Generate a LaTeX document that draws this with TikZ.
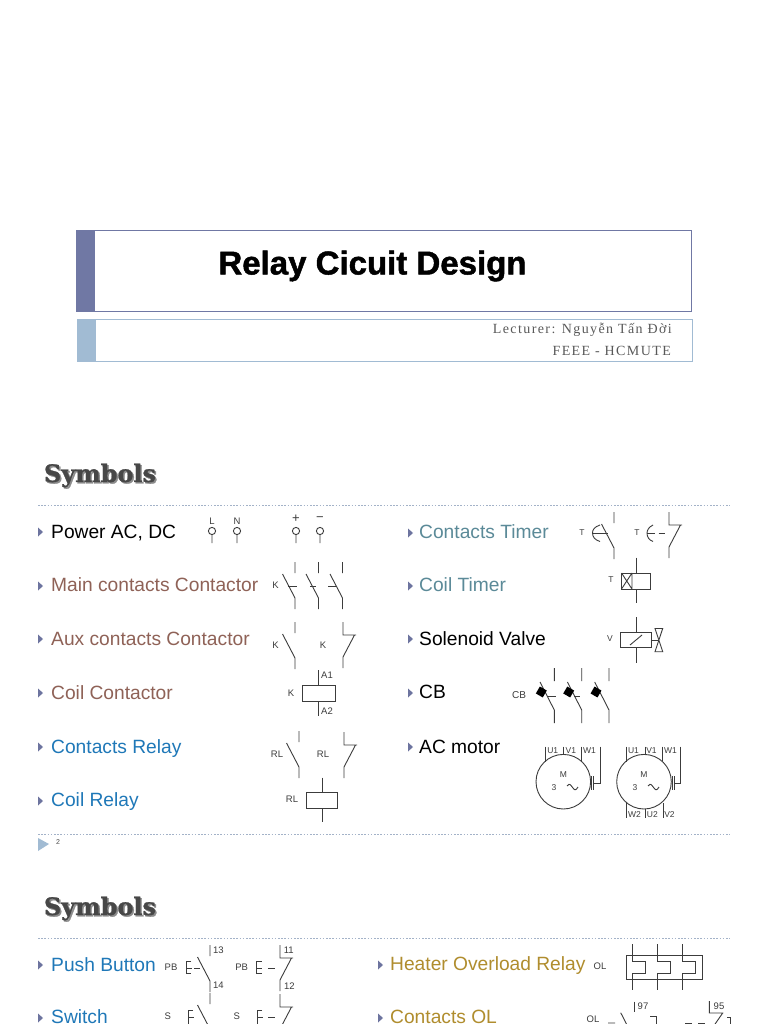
\documentclass[tikz,border=0pt]{standalone}
\usepackage{fontspec}
\setmainfont{Liberation Sans}
\newfontfamily\titlef[BoldFeatures={FakeBold=1.4}]{Liberation Sans}
\newfontfamily\headf[BoldFeatures={FakeBold=1.0}]{DejaVu Serif}
\newfontfamily\lectf[LetterSpace=10]{Liberation Serif}
\definecolor{cbrown}{HTML}{8F6257}
\definecolor{cteal}{HTML}{5B8A98}
\definecolor{cblue}{HTML}{1F78B8}
\definecolor{cgold}{HTML}{B08D2E}
\definecolor{cbul}{HTML}{6D749F}
\definecolor{cline}{HTML}{3C3C3C}
\definecolor{crule}{HTML}{A3B2C8}
\definecolor{cbar}{HTML}{7078A4}
\definecolor{cbarb}{HTML}{A1BBD3}
\tikzset{
  sym/.style={draw=cline,line width=0.9pt},
  lbl/.style={font=\fontsize{9.5}{10}\selectfont,text=cline,inner sep=0pt},
  lbs/.style={font=\fontsize{8.5}{9}\selectfont,text=cline,inner sep=0pt},
  item/.style={anchor=base west,inner sep=0pt,font=\fontsize{19.2}{22}\selectfont},
  bulletmark/.style={fill=cbul,draw=none},
  rulel/.style={draw=crule,line width=0.7pt,dash pattern=on 1.6pt off 1.6pt},
  headtext/.style={inner sep=0pt,font=\headf\bfseries\fontsize{24}{26}\selectfont},
}
\newcommand{\bul}[2]{\path[bulletmark] (#1,#2-4.5) -- (#1+5,#2) -- (#1,#2+4.5) -- cycle;}
\newcommand{\noC}[2]{\begin{scope}[shift={(#1,#2)}]
  \draw[sym] (0,0) -- (0,11) (-12.5,12) -- (0,36) -- (0,47);\end{scope}}
\newcommand{\ncC}[2]{\begin{scope}[shift={(#1,#2)}]
  \draw[sym] (0,0) -- (0,13) -- (13,13) (11.5,13) -- (0,35) -- (0,46);\end{scope}}
\newcommand{\terminal}[2]{\draw[sym] (#1,#2) circle (3.6) (#1,#2+3.6) -- (#1,#2+12);}
\begin{document}
\begin{tikzpicture}[x=1pt,y=-1pt]
\clip (0,0) rectangle (768,1024);
\fill[white] (0,0) rectangle (768,1024);
% title
\draw[draw=cbar,line width=0.7pt] (76,230) rectangle (691,311);
\fill[cbar] (76,230) rectangle (95,311);
\node[inner sep=0pt] (title) at (372.5,266) {\titlef\bfseries\fontsize{33}{35}\selectfont Relay Cicuit Design};
\draw[draw=cbarb,line width=0.7pt] (77,319) rectangle (692,361);
\fill[cbarb] (77,319) rectangle (96,361);
\node[anchor=east,inner sep=0pt,text=black!65] (lect) at (672,329.5) {\lectf\fontsize{14}{16}\selectfont Lecturer: Nguyễn Tấn Đời};
\node[anchor=east,inner sep=0pt,text=black!65] (feee) at (671,350.5) {\lectf\fontsize{14}{16}\selectfont FEEE - HCMUTE};
% headings
\node[headtext,text=black!45] (h1s) at (101.5,477) {Symbols};
\node[headtext,text=black!72] (h1) at (100,475.5) {Symbols};
\node[headtext,text=black!45] (h2s) at (101.5,910) {Symbols};
\node[headtext,text=black!72] (h2) at (100,908.5) {Symbols};
% rules
\draw[rulel] (38,505) -- (730,505);
\draw[rulel] (38,834) -- (730,834);
\draw[rulel] (38,938) -- (730,938);
\path[fill=cbarb] (38,838) -- (49,844) -- (38,851) -- cycle;
\node[inner sep=0pt,font=\fontsize{7}{8}\selectfont,text=black!70] (pg) at (58,842) {2};
% left items
\bul{38}{532}\node[item] (i1) at (51,538) {Power AC, DC};
\bul{38}{586}\node[item,text=cbrown] (i2) at (51,591.7) {Main contacts Contactor};
\bul{38}{639}\node[item,text=cbrown] (i3) at (51,645) {Aux contacts Contactor};
\bul{38}{693}\node[item,text=cbrown] (i4) at (51,699) {Coil Contactor};
\bul{38}{747}\node[item,text=cblue] (i5) at (51,753.3) {Contacts Relay};
\bul{38}{801}\node[item,text=cblue] (i6) at (51,806.7) {Coil Relay};
% right items
\bul{408}{533}\node[item,text=cteal] (j1) at (419,538) {Contacts Timer};
\bul{408}{586}\node[item,text=cteal] (j2) at (419,591.7) {Coil Timer};
\bul{408}{639}\node[item] (j3) at (419,645) {Solenoid Valve};
\bul{408}{693}\node[item] (j4) at (419,698.5) {CB};
\bul{408}{747}\node[item] (j5) at (419,753.3) {AC motor};
% bottom items
\bul{38}{965}\node[item,text=cblue] (k1) at (51,971.5) {Push Button};
\bul{38}{1018}\node[item,text=cblue] (k2) at (51,1023.3) {Switch};
\bul{378}{965}\node[item,text=cgold] (k3) at (390,970.7) {Heater Overload Relay};
\bul{378}{1018}\node[item,text=cgold] (k4) at (390,1023.3) {Contacts OL};
% power
\node[lbl] (pL) at (212,521) {L};
\node[lbl] (pN) at (237,521) {N};
\node[lbl,font=\fontsize{13}{14}\selectfont] (pP) at (296,519) {+};
\node[lbl,font=\fontsize{13}{14}\selectfont] (pM) at (320,519) {−};
\terminal{212}{531}\terminal{237}{531}\terminal{296}{531}\terminal{320}{531}
% main contacts
\node[lbl] (mk) at (275.5,585) {K};
\noC{295}{562}\noC{318.5}{562}\noC{342.5}{562}
\draw[sym] (288,586) -- (297,586) (310,586) -- (316,586) (328,586) -- (337,586);
% aux
\node[lbl] (ak1) at (275.5,645) {K};
\node[lbl] (ak2) at (323,645) {K};
\noC{295}{622}
\ncC{343}{622}
% coil contactor
\node[lbl] (ck) at (291,693) {K};
\node[lbl] (a1) at (327,675) {A1};
\node[lbl] (a2) at (327,711) {A2};
\draw[sym] (318,670) -- (318,685) (318,701) -- (318,716);
\draw[sym] (302.5,685) rectangle (335,701);
% contacts relay
\node[lbl] (rl1) at (277,754) {RL};
\node[lbl] (rl2) at (323,754) {RL};
\noC{299}{731}
\ncC{344}{732}
% coil relay
\node[lbl] (rl3) at (292,799.5) {RL};
\draw[sym] (322,777.5) -- (322,792.5) (322,808) -- (322,822);
\draw[sym] (306,792.5) rectangle (337,808);
% contacts timer
\node[lbs] (t1) at (582,533) {T};
\node[lbs] (t2) at (637,533) {T};
\noC{614}{512}
\draw[sym] (600,525) .. controls (594,527) and (592.5,530) .. (592.5,533) .. controls (592.5,537) and (595,540) .. (600,541.5);
\draw[sym] (592.5,533) -- (608,533);
\ncC{669}{512}
\draw[sym] (653,525) .. controls (649,527) and (647,530) .. (647,533) .. controls (647,537) and (649,540) .. (653,541.5);
\draw[sym] (647,533) -- (655,533) (658.5,533) -- (665,533);
% coil timer
\node[lbs] (t3) at (611,580) {T};
\draw[sym] (636,557.5) -- (636,573) (636,589) -- (636,603);
\draw[sym] (621.5,573) rectangle (650.5,589);
\draw[sym] (632,573) -- (632,589) (621.5,573) -- (632,589) (632,573) -- (621.5,589);
% solenoid
\node[lbs] (v) at (610,639) {V};
\draw[sym] (636,617) -- (636,632.5) (636,648) -- (636,662.5);
\draw[sym] (620.5,632.5) rectangle (651.7,647.7);
\draw[sym] (630,645) -- (642,635);
\draw[sym] (651.7,640) -- (659,640);
\draw[sym] (655,628.5) -- (662.7,628.5) -- (655,651.7) -- (662.7,651.7) -- cycle;
% CB
\node[lbl,font=\fontsize{10}{11}\selectfont] (cb) at (519,695) {CB};
\foreach \xx in {554.3,581.7,609}{
  \draw[sym] (\xx,668) -- (\xx,681) (\xx-14.3,682) -- (\xx,710) -- (\xx,723);
  \fill[black,rotate around={-30:(\xx-13,692)}] (\xx-17,688) rectangle (\xx-9,696);
}
\draw[sym] (547,696) -- (556,696) (574,696) -- (580,696);
% motors
\begin{scope}
\draw[sym] (563.3,781.7) circle (27.3);
\draw[sym] (545.7,746.7) -- (545.7,762) (563.3,746.7) -- (563.3,754.4) (581.7,746.7) -- (581.7,761);
\draw[sym] (600,746.7) -- (600,783) -- (593.5,783);
\draw[sym] (591,776) -- (591,790) (593.5,776) -- (593.5,790);
\node[lbs] (u1a) at (552.7,750.7) {U1};
\node[lbs] (v1a) at (570.8,750.7) {V1};
\node[lbs] (w1a) at (589.5,750.7) {W1};
\node[lbs] (ma) at (563.3,775) {M};
\node[lbs] (na) at (554,787.7) {3};
\draw[sym] (567,786) .. controls (570,782) and (571,786) .. (573,788) .. controls (575,791) and (576,790) .. (578,787);
\end{scope}
\begin{scope}
\draw[sym] (644,781.7) circle (27.3);
\draw[sym] (626.7,746.7) -- (626.7,762) (645,746.7) -- (645,754.4) (662.3,746.7) -- (662.3,761);
\draw[sym] (680.7,746.7) -- (680.7,783) -- (674.5,783);
\draw[sym] (672,776) -- (672,790) (674.5,776) -- (674.5,790);
\draw[sym] (626.7,803) -- (626.7,818) (645.7,809) -- (645.7,818) (663,803) -- (663,818);
\node[lbs] (u1b) at (633.5,750.7) {U1};
\node[lbs] (v1b) at (651.5,750.7) {V1};
\node[lbs] (w1b) at (670.5,750.7) {W1};
\node[lbs] (w2b) at (634.5,814.3) {W2};
\node[lbs] (u2b) at (652.3,814.3) {U2};
\node[lbs] (v2b) at (669.5,814.3) {V2};
\node[lbs] (mb) at (644,775) {M};
\node[lbs] (nb) at (635,787.7) {3};
\draw[sym] (648,786) .. controls (651,782) and (652,786) .. (654,788) .. controls (656,791) and (657,790) .. (659,787);
\end{scope}
% push buttons
\node[lbl] (pb1) at (171,967.7) {PB};
\node[lbl] (pb2) at (241.7,967.7) {PB};
\draw[sym] (191,961.7) -- (186,961.7) -- (186,973.3) -- (191,973.3) (186,968) -- (192,968) (194,968) -- (200,968);
\noC{210}{945}
\draw[sym] (261.7,961.7) -- (256.7,961.7) -- (256.7,973.3) -- (261.7,973.3) (256.7,968) -- (262,968) (268.3,968) -- (275,968);
\ncC{280}{945}
\node[lbl] (n13) at (218.3,950) {13};
\node[lbl] (n14) at (218.3,985.7) {14};
\node[lbl] (n11) at (288.7,950) {11};
\node[lbl] (n12) at (289.3,985.7) {12};
% switches
\node[lbl] (s1) at (167.7,1016) {S};
\node[lbl] (s2) at (236.7,1016) {S};
\draw[sym] (193,1010.7) -- (188.3,1010.7) -- (188.3,1024) -- (185,1024) (188.3,1017) -- (194,1017);
\noC{210}{993}
\draw[sym] (262,1010.7) -- (257.3,1010.7) -- (257.3,1024) -- (254,1024) (257.3,1017) -- (263,1017) (268.3,1017) -- (275,1017);
\ncC{280}{994}
% heater overload
\node[lbl] (ol) at (600,966.7) {OL};
\draw[sym,line width=1pt] (626,955) rectangle (702.3,979.3);
\foreach \xx in {632.3,657.3,682.7}{
  \draw[sym] (\xx,944) -- (\xx,961.7) -- (\xx+12.7,961.7) -- (\xx+12.7,973.3) -- (\xx,973.3) -- (\xx,990);
}
% contacts OL
\node[lbl] (ol2) at (593,1019) {OL};
\draw[sym] (608,1023) -- (615,1023) (620.7,1012.7) -- (628,1027);
\draw[sym] (634.3,1001.7) -- (634.3,1011.7);
\draw[sym] (650,1016.7) -- (656,1016.7) -- (656,1024);
\node[lbl] (n97) at (643,1006) {97};
\draw[sym] (685,1023) -- (692,1023) (698,1023) -- (705,1023);
\draw[sym] (709.3,1001) -- (709.3,1013) -- (723.3,1013) (722.7,1013) -- (713,1027);
\draw[sym] (727,1017) -- (730,1017) -- (730,1024);
\node[lbl] (n95) at (719,1006) {95};
\end{tikzpicture}
\end{document}
